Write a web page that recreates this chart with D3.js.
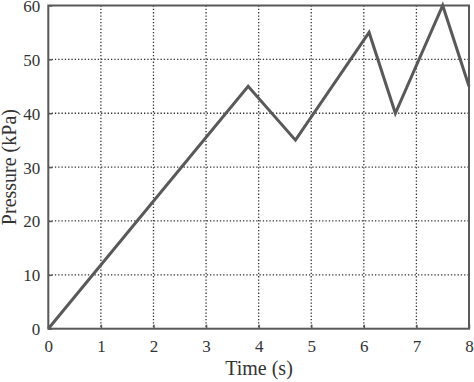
<!DOCTYPE html>
<html><head><meta charset="utf-8">
<script src="https://cdn.jsdelivr.net/npm/d3@7"></script>
<style>body{margin:0;background:#fff} text{font-family:'Liberation Serif','Times New Roman',serif}</style></head>
<body><svg id="c" width="474" height="382"></svg>
<script>
const timeValues = [0, 3.8, 4.7, 6.1, 6.6, 7.5, 8];
const pressureValues = [0, 45, 35, 55, 40, 60, 45];
const xTicks = [0,1,2,3,4,5,6,7,8];
const yTicks = [0,10,20,30,40,50,60];

const svg = d3.select("#c");
const L=48.3, R=469, T=5.5, B=328.7;
const x = d3.scaleLinear().domain([0,8]).range([L,R]);
const y = d3.scaleLinear().domain([0,60]).range([B,T]);
const col="#595959";
const font="'Liberation Serif','Times New Roman',serif";

// grid
svg.append("g").selectAll("line").data(xTicks.slice(1,-1)).join("line")
  .attr("x1",d=>x(d)).attr("x2",d=>x(d)).attr("y1",T).attr("y2",B)
  .attr("stroke","#333").attr("stroke-width",1.3).attr("stroke-dasharray","1.3,2");
svg.append("g").selectAll("line").data(yTicks.slice(1,-1)).join("line")
  .attr("y1",d=>y(d)).attr("y2",d=>y(d)).attr("x1",L).attr("x2",R)
  .attr("stroke","#333").attr("stroke-width",1.3).attr("stroke-dasharray","1.3,2");

// axes
const xa = svg.append("g").attr("transform",`translate(0,${B})`)
  .call(d3.axisBottom(x).tickValues(xTicks).tickSize(-4).tickPadding(11).tickFormat(d3.format("d")));
const ya = svg.append("g").attr("transform",`translate(${L},0)`)
  .call(d3.axisLeft(y).tickValues(yTicks).tickSize(-4).tickPadding(8).tickFormat(d3.format("d")));
[xa,ya].forEach(a=>{
  a.attr("font-family",font).attr("font-size",17);
  a.select(".domain").remove();
  a.selectAll("line").attr("stroke",col).attr("stroke-width",1.5);
  a.selectAll("text").style("font-family",font).style("font-size","17px").attr("fill","#333");
});
ya.selectAll("text").attr("dy","0.35em");
// box
svg.append("rect").attr("x",L).attr("y",T).attr("width",R-L).attr("height",B-T)
  .attr("fill","none").attr("stroke",col).attr("stroke-width",2);

// line
svg.append("path").datum(timeValues.map((t,i)=>[t,pressureValues[i]]))
  .attr("d",d3.line().x(d=>x(d[0])).y(d=>y(d[1])))
  .attr("fill","none").attr("stroke",col).attr("stroke-width",3).attr("stroke-linejoin","miter");

// titles
svg.append("text").attr("x",259).attr("y",375).attr("text-anchor","middle")
  .style("font-family",font).style("font-size","20px").attr("fill","#333").text("Time (s)");
svg.append("text").attr("transform",`translate(16,${(T+B)/2}) rotate(-90)`).attr("text-anchor","middle")
  .style("font-family",font).style("font-size","20px").attr("fill","#333").text("Pressure (kPa)");
</script></body></html>
